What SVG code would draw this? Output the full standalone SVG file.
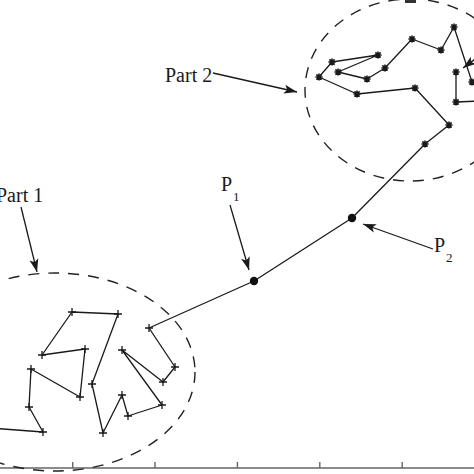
<svg xmlns="http://www.w3.org/2000/svg" xmlns:xlink="http://www.w3.org/1999/xlink" width="474" height="474" viewBox="0 0 474 474">
<style>
.ln{fill:none;stroke:#1a1a1a;stroke-width:1.3;stroke-linejoin:round}
.dash{fill:none;stroke:#222;stroke-width:1.4;stroke-dasharray:11 9}
.mk{fill:none;stroke:#1a1a1a;stroke-width:1.3}
.st{fill:none;stroke:#1a1a1a;stroke-width:1.6}
.arr{fill:none;stroke:#1a1a1a;stroke-width:1.3}
.lbl{font-family:"Liberation Serif","Times New Roman",serif;font-size:20px;fill:#1a1a1a}
.sub{font-family:"Liberation Serif","Times New Roman",serif;font-size:13px;fill:#1a1a1a}
.axis{stroke:#666;stroke-width:1.4;fill:none}
</style>
<defs>
<marker id="ah" markerUnits="userSpaceOnUse" markerWidth="14" markerHeight="10" refX="13" refY="5" orient="auto">
<path d="M0,0.5 L13,5 L0,9.5 L3,5 z" fill="#1a1a1a"/>
</marker>
<path id="plus" d="M-4,0H4M0,-4V4"/>
<path id="star" d="M-3.6,0H3.6M0,-3.6V3.6M-2.6,-2.6L2.6,2.6M-2.6,2.6L2.6,-2.6"/>
</defs>
<rect width="474" height="474" fill="#fff"/>

<g id="axis">
<path class="axis" d="M0,468H474M72.7,462V468M155,462V468M237.4,462V468M319.8,462V468M402.2,462V468"/>
</g>

<g id="part1-region">
<ellipse class="dash" cx="55" cy="372" rx="140" ry="99"/>
</g>
<g id="part2-region">
<ellipse class="dash" cx="410" cy="90" rx="105" ry="91"/>
<rect x="405" y="0" width="11" height="3" fill="#333"/>
</g>

<g id="connectors">
<polyline class="ln" points="-10,428 43,432 29,407 31,369 80,397 85,349 42,355 72,312 118,314 92,384 103,433 122,395 128,416 162,405 122,350 163,382 175,367 149,328 254,281 352,218 425,144 449,125 415,88 357,94 319,77 332,62 378,55 338,72 367,79 385,68 412,39 441,50 454,27 472,82"/>
<polyline class="ln" points="456,72 456,102 480,101"/>
<line class="arr" x1="21" y1="207" x2="37" y2="272" marker-end="url(#ah)"/>
<line class="arr" x1="213" y1="73" x2="297" y2="92" marker-end="url(#ah)"/>
<line class="arr" x1="230" y1="205" x2="249" y2="270" marker-end="url(#ah)"/>
<line class="arr" x1="433" y1="249" x2="363" y2="224" marker-end="url(#ah)"/>
<line class="arr" x1="482" y1="54" x2="463" y2="68" marker-end="url(#ah)"/>
</g>

<g id="part1-points" class="mk">
<use href="#plus" x="43" y="432"/><use href="#plus" x="29" y="407"/><use href="#plus" x="31" y="369"/>
<use href="#plus" x="80" y="397"/><use href="#plus" x="85" y="349"/><use href="#plus" x="42" y="355"/>
<use href="#plus" x="72" y="312"/><use href="#plus" x="118" y="314"/><use href="#plus" x="92" y="384"/>
<use href="#plus" x="103" y="433"/><use href="#plus" x="122" y="395"/><use href="#plus" x="128" y="416"/>
<use href="#plus" x="162" y="405"/><use href="#plus" x="122" y="350"/><use href="#plus" x="163" y="382"/>
<use href="#plus" x="175" y="367"/><use href="#plus" x="149" y="328"/>
</g>

<g id="part2-points" class="st">
<use href="#star" x="425" y="144"/><use href="#star" x="449" y="125"/><use href="#star" x="415" y="88"/>
<use href="#star" x="357" y="94"/><use href="#star" x="319" y="77"/><use href="#star" x="332" y="62"/>
<use href="#star" x="378" y="55"/><use href="#star" x="338" y="72"/><use href="#star" x="367" y="79"/>
<use href="#star" x="385" y="68"/><use href="#star" x="412" y="39"/><use href="#star" x="441" y="50"/>
<use href="#star" x="454" y="27"/><use href="#star" x="472" y="82"/><use href="#star" x="456" y="72"/>
<use href="#star" x="456" y="102"/>
</g>

<g id="P1">
<circle cx="254" cy="281" r="4.2" fill="#111"/>
<text class="lbl" x="221" y="191">P</text><text class="sub" x="233" y="201">1</text>
</g>
<g id="P2">
<circle cx="352" cy="218" r="4.2" fill="#111"/>
<text class="lbl" x="434" y="252">P</text><text class="sub" x="446" y="262">2</text>
</g>
<g id="label-part1">
<text class="lbl" x="-4" y="202">Part 1</text>
</g>
<g id="label-part2">
<text class="lbl" x="165" y="82">Part 2</text>
</g>
</svg>
